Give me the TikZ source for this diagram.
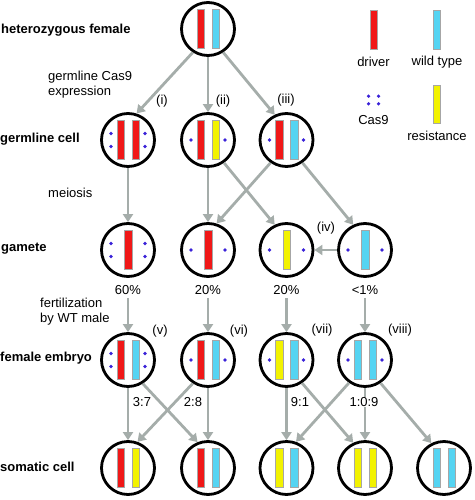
\documentclass[tikz,border=0pt]{standalone}
\usepackage{fontspec}
\setmainfont{Liberation Sans}
\usetikzlibrary{arrows.meta}
\definecolor{drvred}{HTML}{F01818}
\definecolor{wtcyan}{HTML}{55D4F2}
\definecolor{resyel}{HTML}{F2F200}
\definecolor{arrgray}{HTML}{A5ADAA}
\definecolor{casblue}{HTML}{3A22D8}
\tikzset{
  cellc/.style={circle, draw=black, line width=2.8pt, minimum size=53pt, inner sep=0pt},
  arr/.style={draw=arrgray, line width=2.8pt, -{Triangle[length=8pt,width=10pt]}},
  lab/.style={font=\fontsize{13}{15}\selectfont, inner sep=1pt},
  blab/.style={font=\bfseries\fontsize{13}{15}\selectfont, anchor=west, inner sep=0pt},
  barf/.style={draw=black!35, line width=0.4pt},
  dotf/.style={fill=casblue, draw=none}
}
\newcommand{\barat}[3]{\path[barf, fill=#3] ([xshift=#2pt]#1.center) ++(-3.75,-19.5) rectangle ++(7.5,39);}
\newcommand{\twobars}[3]{\barat{#1}{-7.5}{#2}\barat{#1}{7.5}{#3}}
\newcommand{\dotsfour}[1]{\foreach \dx in {-17,17}{\foreach \dy in {-6.5,6.5}{\fill[dotf] ([xshift=\dx pt,yshift=\dy pt]#1.center) circle (1.8);}}}
\newcommand{\dotstwo}[1]{\foreach \dx in {-17,17}{\fill[dotf] ([xshift=\dx pt]#1.center) circle (1.8);}}
\begin{document}
\begin{tikzpicture}[x=1pt,y=-1pt]
\useasboundingbox (0,0) rectangle (474,500);
% rows: 29, 140, 250, 360, 468 ; cols: 128, 208, 286.5, 365, 444
\node[cellc] (top) at (208,29) {};
\node[cellc] (g1) at (128,140) {};
\node[cellc] (g2) at (208,140) {};
\node[cellc] (g3) at (286.5,140) {};
\node[cellc] (m1) at (128,250) {};
\node[cellc] (m2) at (208,250) {};
\node[cellc] (m3) at (286.5,250) {};
\node[cellc] (m4) at (365,250) {};
\node[cellc] (e1) at (128,360) {};
\node[cellc] (e2) at (208,360) {};
\node[cellc] (e3) at (286.5,360) {};
\node[cellc] (e4) at (365,360) {};
\node[cellc] (s1) at (128,468) {};
\node[cellc] (s2) at (208,468) {};
\node[cellc] (s3) at (286.5,468) {};
\node[cellc] (s4) at (365,468) {};
\node[cellc] (s5) at (444,468) {};
% contents
\twobars{top}{drvred}{wtcyan}
\twobars{g1}{drvred}{drvred}\dotsfour{g1}
\twobars{g2}{drvred}{resyel}\dotstwo{g2}
\twobars{g3}{drvred}{wtcyan}\dotstwo{g3}
\barat{m1}{0}{drvred}\dotsfour{m1}
\barat{m2}{0}{drvred}\dotstwo{m2}
\barat{m3}{0}{resyel}\dotstwo{m3}
\barat{m4}{0}{wtcyan}\dotstwo{m4}
\twobars{e1}{drvred}{wtcyan}\dotsfour{e1}
\twobars{e2}{drvred}{wtcyan}\dotstwo{e2}
\twobars{e3}{resyel}{wtcyan}\dotstwo{e3}
\twobars{e4}{wtcyan}{wtcyan}\dotstwo{e4}
\twobars{s1}{drvred}{resyel}
\twobars{s2}{drvred}{wtcyan}
\twobars{s3}{resyel}{wtcyan}
\twobars{s4}{resyel}{resyel}
\twobars{s5}{wtcyan}{wtcyan}
% row labels
\node[blab] (lhet) at (1,30) {heterozygous female};
\node[blab] (lger) at (0,139) {germline cell};
\node[blab] (lgam) at (1,249) {gamete};
\node[blab] (lemb) at (0,358) {female embryo};
\node[blab] (lsom) at (0,467) {somatic cell};
% process labels
\node[lab, anchor=west, align=left] (lcas) at (47,85) {germline Cas9\\expression};
\node[lab, anchor=west] (lmei) at (47,193) {meiosis};
\node[lab, anchor=west, align=left] (lfer) at (39,312) {fertilization\\by WT male};
% percentages
\node[lab, inner sep=3pt] (p1) at (128,290) {60\%};
\node[lab, inner sep=3pt] (p2) at (208,290) {20\%};
\node[lab, inner sep=3pt] (p3) at (286.5,290) {20\%};
\node[lab, inner sep=3pt] (p4) at (365,290) {\textless1\%};
% roman labels
\node[lab] (ri) at (162,101) {(i)};
\node[lab] (rii) at (223,101) {(ii)};
\node[lab] (riii) at (286,100) {(iii)};
\node[lab] (riv) at (326,228) {(iv)};
\node[lab] (rv) at (160,331) {(v)};
\node[lab] (rvi) at (239,331) {(vi)};
\node[lab] (rvii) at (322,330) {(vii)};
\node[lab] (rviii) at (400,330) {(viii)};
% arrows
\draw[arr] (top.-123) -- (g1.72);
\draw[arr] (top.south) -- (g2.north);
\draw[arr] (top.-57) -- (g3.115);
\draw[arr] (g1.south) -- (m1.north);
\draw[arr] (g2.south) -- (m2.north);
\draw[arr] (g2.-55) -- (m3.115);
\draw[arr] (g3.-125) -- (m2.72);
\draw[arr] (g3.-55) -- (m4.115);
\draw[arr] (m4.west) -- (m3.east);
\draw[arr] (p1.south) -- (e1.north);
\draw[arr] (p2.south) -- (e2.north);
\draw[arr] (p3.south) -- (e3.north);
\draw[arr] (p4.south) -- (e4.north);
\draw[arr] (e1.south) -- (s1.north);
\draw[arr] (e1.-58) -- (s2.112);
\draw[arr] (e2.-123) -- (s1.70);
\draw[arr] (e2.south) -- (s2.north);
\draw[arr] (e3.south) -- (s3.north);
\draw[arr] (e3.-56) -- (s4.115);
\draw[arr] (e4.-125) -- (s3.70);
\draw[arr] (e4.south) -- (s4.north);
\draw[arr] (e4.-56) -- (s5.117);
% ratios
\node[lab] (r37) at (142,402) {3:7};
\node[lab] (r28) at (193,402) {2:8};
\node[lab] (r91) at (300,402) {9:1};
\node[lab, fill=white, inner sep=0.5pt] (r109) at (364,402) {1:0:9};
% legend
\node[inner sep=0pt, minimum width=7.5pt, minimum height=39pt, barf, fill=drvred] (kd) at (373.5,30) {};
\node[inner sep=0pt, minimum width=7.5pt, minimum height=39pt, barf, fill=wtcyan] (kw) at (436.5,30) {};
\node[inner sep=0pt, minimum width=7.5pt, minimum height=38pt, barf, fill=resyel] (kr) at (436.5,104) {};
\node[inner sep=0pt, minimum size=14pt] (kc) at (373.5,100) {};
\foreach \dx in {-5,5}{\foreach \dy in {-3.8,3.8}{\fill[dotf] ([xshift=\dx pt,yshift=\dy pt]kc.center) circle (1.8);}}
\node[lab] (ld) at (373.5,62) {driver};
\node[lab] (lw) at (437,62) {wild type};
\node[lab] (lc) at (373.5,120) {Cas9};
\node[lab] (lr) at (437,136) {resistance};
\end{tikzpicture}
\end{document}
